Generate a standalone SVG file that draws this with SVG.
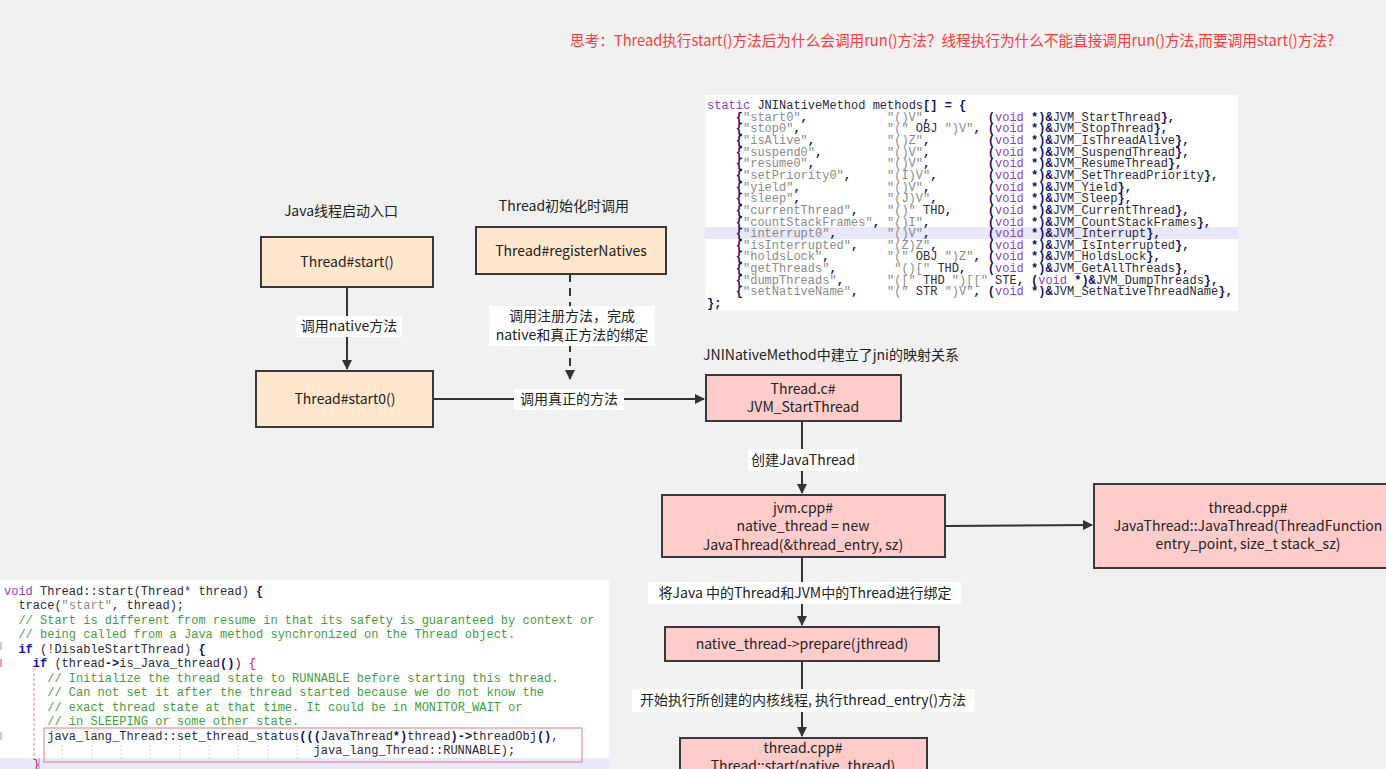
<svg xmlns="http://www.w3.org/2000/svg" width="1386" height="769" viewBox="0 0 1386 769">
<style>
.bg{fill:#f1f1f1}
.nodeO rect{fill:#ffe6cc;stroke:#36393d;stroke-width:2}
.nodeP rect{fill:#ffcccc;stroke:#36393d;stroke-width:2}
.t{font-family:"Noto Sans CJK SC","Liberation Sans",sans-serif;font-size:14px;fill:#222;text-anchor:middle}
.lbl{font-family:"Noto Sans CJK SC","Liberation Sans",sans-serif;font-size:14px;fill:#222;text-anchor:middle}
.lblbg{fill:#ffffff}
.edge{stroke:#333;stroke-width:2;fill:none}
.dash{stroke-dasharray:8 6}
.code{font-family:"Liberation Mono","Courier New",monospace;font-size:12px;fill:#2b2b3b}
.kw{fill:#8a3fc6}
.pn{fill:#10106a;font-weight:bold}
.st{fill:#8a8a8a}
.cm{fill:#3f9f3f}
.bl{fill:#1010c0;font-weight:bold}
.rd{fill:#e02020}
.title{font-family:"Noto Sans CJK SC","Liberation Sans",sans-serif;font-size:15px;fill:#ff3b3b}
</style>
<defs>
<marker id="arr" viewBox="0 0 10 10" refX="9" refY="5" markerWidth="5" markerHeight="5" orient="auto" markerUnits="strokeWidth">
<path d="M0,0 L10,5 L0,10 z" fill="#333"/>
</marker>
</defs>
<rect class="bg" x="0" y="0" width="1386" height="769"/>

<text class="title" x="570" y="46" textLength="764" lengthAdjust="spacingAndGlyphs">思考：Thread执行start()方法后为什么会调用run()方法？线程执行为什么不能直接调用run()方法,而要调用start()方法?</text>

<!-- code block 1 -->
<g id="code-methods">
<rect x="705" y="95" width="533" height="216" fill="#ffffff"/>
<rect x="705" y="227" width="533" height="12" fill="#e8e8fa"/>
<text class="code" y="109"><tspan x="707" class="kw">static</tspan><tspan> JNINativeMethod methods</tspan><tspan class="pn">[]</tspan><tspan> </tspan><tspan class="pn">=</tspan><tspan> </tspan><tspan class="pn">{</tspan></text>
<text class="code" y="120.65"><tspan x="735.8" class="pn">{</tspan><tspan class="st">"start0"</tspan><tspan class="pn">,</tspan><tspan x="887" class="st">"()V"</tspan><tspan class="pn">,</tspan><tspan x="987.8" class="pn">(</tspan><tspan class="kw">void</tspan><tspan class="pn"> *)&amp;</tspan><tspan>JVM_StartThread</tspan><tspan class="pn">},</tspan></text>
<text class="code" y="132.3"><tspan x="735.8" class="pn">{</tspan><tspan class="st">"stop0"</tspan><tspan class="pn">,</tspan><tspan x="887" class="st">"("</tspan><tspan> OBJ </tspan><tspan class="st">")V"</tspan><tspan class="pn">,</tspan><tspan x="987.8" class="pn">(</tspan><tspan class="kw">void</tspan><tspan class="pn"> *)&amp;</tspan><tspan>JVM_StopThread</tspan><tspan class="pn">},</tspan></text>
<text class="code" y="143.95"><tspan x="735.8" class="pn">{</tspan><tspan class="st">"isAlive"</tspan><tspan class="pn">,</tspan><tspan x="887" class="st">"()Z"</tspan><tspan class="pn">,</tspan><tspan x="987.8" class="pn">(</tspan><tspan class="kw">void</tspan><tspan class="pn"> *)&amp;</tspan><tspan>JVM_IsThreadAlive</tspan><tspan class="pn">},</tspan></text>
<text class="code" y="155.6"><tspan x="735.8" class="pn">{</tspan><tspan class="st">"suspend0"</tspan><tspan class="pn">,</tspan><tspan x="887" class="st">"()V"</tspan><tspan class="pn">,</tspan><tspan x="987.8" class="pn">(</tspan><tspan class="kw">void</tspan><tspan class="pn"> *)&amp;</tspan><tspan>JVM_SuspendThread</tspan><tspan class="pn">},</tspan></text>
<text class="code" y="167.25"><tspan x="735.8" class="pn">{</tspan><tspan class="st">"resume0"</tspan><tspan class="pn">,</tspan><tspan x="887" class="st">"()V"</tspan><tspan class="pn">,</tspan><tspan x="987.8" class="pn">(</tspan><tspan class="kw">void</tspan><tspan class="pn"> *)&amp;</tspan><tspan>JVM_ResumeThread</tspan><tspan class="pn">},</tspan></text>
<text class="code" y="178.9"><tspan x="735.8" class="pn">{</tspan><tspan class="st">"setPriority0"</tspan><tspan class="pn">,</tspan><tspan x="887" class="st">"(I)V"</tspan><tspan class="pn">,</tspan><tspan x="987.8" class="pn">(</tspan><tspan class="kw">void</tspan><tspan class="pn"> *)&amp;</tspan><tspan>JVM_SetThreadPriority</tspan><tspan class="pn">},</tspan></text>
<text class="code" y="190.55"><tspan x="735.8" class="pn">{</tspan><tspan class="st">"yield"</tspan><tspan class="pn">,</tspan><tspan x="887" class="st">"()V"</tspan><tspan class="pn">,</tspan><tspan x="987.8" class="pn">(</tspan><tspan class="kw">void</tspan><tspan class="pn"> *)&amp;</tspan><tspan>JVM_Yield</tspan><tspan class="pn">},</tspan></text>
<text class="code" y="202.2"><tspan x="735.8" class="pn">{</tspan><tspan class="st">"sleep"</tspan><tspan class="pn">,</tspan><tspan x="887" class="st">"(J)V"</tspan><tspan class="pn">,</tspan><tspan x="987.8" class="pn">(</tspan><tspan class="kw">void</tspan><tspan class="pn"> *)&amp;</tspan><tspan>JVM_Sleep</tspan><tspan class="pn">},</tspan></text>
<text class="code" y="213.85"><tspan x="735.8" class="pn">{</tspan><tspan class="st">"currentThread"</tspan><tspan class="pn">,</tspan><tspan x="887" class="st">"()"</tspan><tspan> THD</tspan><tspan class="pn">,</tspan><tspan x="987.8" class="pn">(</tspan><tspan class="kw">void</tspan><tspan class="pn"> *)&amp;</tspan><tspan>JVM_CurrentThread</tspan><tspan class="pn">},</tspan></text>
<text class="code" y="225.5"><tspan x="735.8" class="pn">{</tspan><tspan class="st">"countStackFrames"</tspan><tspan class="pn">,</tspan><tspan x="887" class="st">"()I"</tspan><tspan class="pn">,</tspan><tspan x="987.8" class="pn">(</tspan><tspan class="kw">void</tspan><tspan class="pn"> *)&amp;</tspan><tspan>JVM_CountStackFrames</tspan><tspan class="pn">},</tspan></text>
<text class="code" y="237.15"><tspan x="735.8" class="pn">{</tspan><tspan class="st">"interrupt0"</tspan><tspan class="pn">,</tspan><tspan x="887" class="st">"()V"</tspan><tspan class="pn">,</tspan><tspan x="987.8" class="pn">(</tspan><tspan class="kw">void</tspan><tspan class="pn"> *)&amp;</tspan><tspan>JVM_Interrupt</tspan><tspan class="pn">},</tspan></text>
<text class="code" y="248.8"><tspan x="735.8" class="pn">{</tspan><tspan class="st">"isInterrupted"</tspan><tspan class="pn">,</tspan><tspan x="887" class="st">"(Z)Z"</tspan><tspan class="pn">,</tspan><tspan x="987.8" class="pn">(</tspan><tspan class="kw">void</tspan><tspan class="pn"> *)&amp;</tspan><tspan>JVM_IsInterrupted</tspan><tspan class="pn">},</tspan></text>
<text class="code" y="260.45"><tspan x="735.8" class="pn">{</tspan><tspan class="st">"holdsLock"</tspan><tspan class="pn">,</tspan><tspan x="887" class="st">"("</tspan><tspan> OBJ </tspan><tspan class="st">")Z"</tspan><tspan class="pn">,</tspan><tspan x="987.8" class="pn">(</tspan><tspan class="kw">void</tspan><tspan class="pn"> *)&amp;</tspan><tspan>JVM_HoldsLock</tspan><tspan class="pn">},</tspan></text>
<text class="code" y="272.1"><tspan x="735.8" class="pn">{</tspan><tspan class="st">"getThreads"</tspan><tspan class="pn">,</tspan><tspan x="894.2" class="st">"()["</tspan><tspan> THD</tspan><tspan class="pn">,</tspan><tspan x="987.8" class="pn">(</tspan><tspan class="kw">void</tspan><tspan class="pn"> *)&amp;</tspan><tspan>JVM_GetAllThreads</tspan><tspan class="pn">},</tspan></text>
<text class="code" y="283.75"><tspan x="735.8" class="pn">{</tspan><tspan class="st">"dumpThreads"</tspan><tspan class="pn">,</tspan><tspan x="887" class="st">"(["</tspan><tspan> THD </tspan><tspan class="st">")[["</tspan><tspan> STE</tspan><tspan class="pn">,</tspan><tspan x="1031" class="pn">(</tspan><tspan class="kw">void</tspan><tspan class="pn"> *)&amp;</tspan><tspan>JVM_DumpThreads</tspan><tspan class="pn">},</tspan></text>
<text class="code" y="295.4"><tspan x="735.8" class="pn">{</tspan><tspan class="st">"setNativeName"</tspan><tspan class="pn">,</tspan><tspan x="887" class="st">"("</tspan><tspan> STR </tspan><tspan class="st">")V"</tspan><tspan class="pn">,</tspan><tspan x="987.8" class="pn">(</tspan><tspan class="kw">void</tspan><tspan class="pn"> *)&amp;</tspan><tspan>JVM_SetNativeThreadName</tspan><tspan class="pn">},</tspan></text>
<text class="code" y="307"><tspan x="707" class="pn">};</tspan></text>
</g>

<!-- code block 2 -->
<g id="code-start">
<rect x="0" y="580" width="609" height="189" fill="#ffffff"/>
<rect x="0" y="758" width="609" height="11" fill="#e8e8fa"/>
<line x1="34" y1="668" x2="34" y2="760" stroke="#f08080" stroke-width="1" stroke-dasharray="3 2"/>
<rect x="44" y="728" width="538" height="34" fill="none" stroke="#e87a7a" stroke-width="1"/>
<g stroke="#d8d8d8" stroke-width="1" stroke-dasharray="2 2">
<line x1="62" y1="745" x2="62" y2="760"/><line x1="92" y1="745" x2="92" y2="760"/><line x1="121" y1="745" x2="121" y2="760"/><line x1="150" y1="745" x2="150" y2="760"/><line x1="180" y1="745" x2="180" y2="760"/><line x1="209" y1="745" x2="209" y2="760"/><line x1="238" y1="745" x2="238" y2="760"/><line x1="268" y1="745" x2="268" y2="760"/><line x1="297" y1="745" x2="297" y2="760"/>
</g>
<line x1="39" y1="758" x2="39" y2="769" stroke="#b070ff" stroke-width="1"/>
<text class="code" y="595"><tspan x="4" class="kw">void</tspan><tspan> Thread::start(Thread* thread) </tspan><tspan class="pn">{</tspan></text>
<text class="code" y="609.45"><tspan x="18.4">trace(</tspan><tspan class="st">"start"</tspan><tspan>, thread);</tspan></text>
<text class="code cm" y="623.9" x="18.4">// Start is different from resume in that its safety is guaranteed by context or</text>
<text class="code cm" y="638.35" x="18.4">// being called from a Java method synchronized on the Thread object.</text>
<text class="code" y="652.8"><tspan x="18.4" class="bl">if</tspan><tspan> (!DisableStartThread) </tspan><tspan class="pn">{</tspan></text>
<text class="code" y="667.25"><tspan x="32.8" class="bl">if</tspan><tspan> (thread</tspan><tspan class="pn">-&gt;</tspan><tspan>is_Java_thread</tspan><tspan class="pn">()</tspan><tspan>) </tspan><tspan class="rd">{</tspan></text>
<text class="code cm" y="681.7" x="47.2">// Initialize the thread state to RUNNABLE before starting this thread.</text>
<text class="code cm" y="696.15" x="47.2">// Can not set it after the thread started because we do not know the</text>
<text class="code cm" y="710.6" x="47.2">// exact thread state at that time. It could be in MONITOR_WAIT or</text>
<text class="code cm" y="725.05" x="47.2">// in SLEEPING or some other state.</text>
<text class="code" y="739.5"><tspan x="47.2">java_lang_Thread::set_thread_status</tspan><tspan class="pn">(((</tspan><tspan>JavaThread</tspan><tspan class="pn">*)</tspan><tspan>thread</tspan><tspan class="pn">)-&gt;</tspan><tspan>threadObj</tspan><tspan class="pn">()</tspan><tspan>,</tspan></text>
<text class="code" y="753.95"><tspan x="313.6">java_lang_Thread::RUNNABLE);</tspan></text>
<text class="code rd" y="768" x="32.8">}</text>
<g stroke="#999" stroke-width="1"><line x1="1" y1="642" x2="1" y2="650"/><line x1="1" y1="732" x2="1" y2="740"/></g>
<line x1="1" y1="659" x2="1" y2="667" stroke="#e04040" stroke-width="1"/>
</g>

<!-- free labels -->
<text class="lbl" x="341" y="216">Java线程启动入口</text>
<text class="lbl" x="564" y="211">Thread初始化时调用</text>
<text class="lbl" x="831" y="360">JNINativeMethod中建立了jni的映射关系</text>

<!-- connectors -->
<g id="connectors">
<path class="edge" d="M347,287 L347,369" marker-end="url(#arr)"/>
<path class="edge dash" d="M570,274 L570,379" marker-end="url(#arr)"/>
<path class="edge" d="M433,399 L704,399" marker-end="url(#arr)"/>
<path class="edge" d="M802,421 L802,493" marker-end="url(#arr)"/>
<path class="edge" d="M945,526 L1092,525" marker-end="url(#arr)"/>
<path class="edge" d="M802,557 L802,625" marker-end="url(#arr)"/>
<path class="edge" d="M802,661 L802,736" marker-end="url(#arr)"/>
<rect class="lblbg" x="296" y="316" width="106" height="21"/>
<text class="lbl" x="349" y="331">调用native方法</text>
<rect class="lblbg" x="489" y="306" width="166" height="40"/>
<text class="lbl" x="572" y="321">调用注册方法，完成</text>
<text class="lbl" x="572" y="340">native和真正方法的绑定</text>
<rect class="lblbg" x="514" y="389" width="110" height="21"/>
<text class="lbl" x="569" y="404">调用真正的方法</text>
<rect class="lblbg" x="748" y="449" width="110" height="22"/>
<text class="lbl" x="803" y="465">创建JavaThread</text>
<rect class="lblbg" x="648" y="582" width="313" height="22"/>
<text class="lbl" x="805" y="598">将Java 中的Thread和JVM中的Thread进行绑定</text>
<rect class="lblbg" x="632" y="689" width="343" height="23"/>
<text class="lbl" x="803" y="705">开始执行所创建的内核线程, 执行thread_entry()方法</text>
</g>

<!-- nodes -->
<g id="n-start" class="nodeO"><rect x="261" y="237" width="172" height="50"/><text class="t" x="347" y="267">Thread#start()</text></g>
<g id="n-register" class="nodeO"><rect x="476" y="227" width="190" height="47"/><text class="t" x="571" y="256">Thread#registerNatives</text></g>
<g id="n-start0" class="nodeO"><rect x="256" y="371" width="177" height="56"/><text class="t" x="345" y="404">Thread#start0()</text></g>
<g id="n-jvmstart" class="nodeP"><rect x="706" y="375" width="195" height="46"/><text class="t" x="803" y="394">Thread.c#</text><text class="t" x="803" y="412">JVM_StartThread</text></g>
<g id="n-jvmcpp" class="nodeP"><rect x="662" y="495" width="283" height="62"/><text class="t" x="803" y="513">jvm.cpp#</text><text class="t" x="803" y="531">native_thread = new</text><text class="t" x="803" y="550">JavaThread(&amp;thread_entry, sz)</text></g>
<g id="n-javathread" class="nodeP"><rect x="1094" y="484" width="310" height="84"/><text class="t" x="1248" y="513">thread.cpp#</text><text class="t" x="1248" y="531">JavaThread::JavaThread(ThreadFunction</text><text class="t" x="1248" y="549">entry_point, size_t stack_sz)</text></g>
<g id="n-prepare" class="nodeP"><rect x="665" y="627" width="274" height="34"/><text class="t" x="802" y="649">native_thread-&gt;prepare(jthread)</text></g>
<g id="n-threadstart" class="nodeP"><rect x="680" y="738" width="247" height="50"/><text class="t" x="803" y="753">thread.cpp#</text><text class="t" x="803" y="771">Thread::start(native_thread)</text></g>
</svg>
